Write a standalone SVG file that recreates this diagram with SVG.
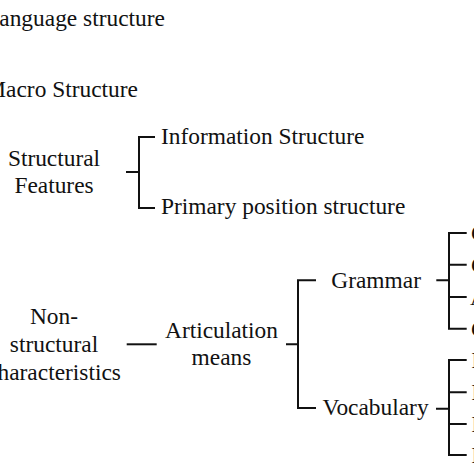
<svg xmlns="http://www.w3.org/2000/svg" width="474" height="474" viewBox="0 0 474 474">
<style>
text{font-family:"Liberation Serif","Times New Roman",serif;font-size:23.4px;fill:#111}
.c{text-anchor:middle}
.ln{stroke:#111;stroke-width:2;fill:none}
</style>
<rect width="474" height="474" fill="#fff"/>
<g id="title"><text x="-15" y="26">Language structure</text></g>
<g id="macro"><text x="-14.7" y="97.3">Macro Structure</text></g>
<g id="structural"><text class="c" x="54" y="165.7">Structural</text><text class="c" x="54" y="193.3">Features</text></g>
<g id="info"><text x="161" y="144">Information Structure</text></g>
<g id="primary"><text x="161" y="214">Primary position structure</text></g>
<g id="nonstructural"><text class="c" x="54" y="324.3">Non-</text><text class="c" x="54" y="352">structural</text><text class="c" x="54" y="379.7">characteristics</text></g>
<g id="articulation"><text class="c" x="221.5" y="337.7">Articulation</text><text class="c" x="221.5" y="365.3">means</text></g>
<g id="grammar"><text x="331.3" y="287.7">Grammar</text></g>
<g id="vocabulary"><text x="322.5" y="414.7">Vocabulary</text></g>
<g id="grammar-items"><text x="471" y="241">C</text><text x="471" y="272.7">C</text><text x="470" y="305">A</text><text x="471" y="336.7">C</text></g>
<g id="vocabulary-items"><text x="471.2" y="367.5">I</text><text x="471.2" y="399.8">I</text><text x="471.2" y="431.5">I</text><text x="471.2" y="462.5">I</text></g>
<g id="connectors" class="ln">
<path d="M126 172H139M155 137H139V208H155"/>
<path d="M126.7 344.3H156.7"/>
<path d="M286 344.3H298M316 280.3H298V408H316"/>
<path d="M436.3 280.3H449M466.7 233H449V328.7H466.7M449 264.7H466.7M449 297H466.7"/>
<path d="M436 408.7H449M466.7 360H449V455H466.7M449 392.3H466.7M449 424H466.7"/>
</g>
</svg>
